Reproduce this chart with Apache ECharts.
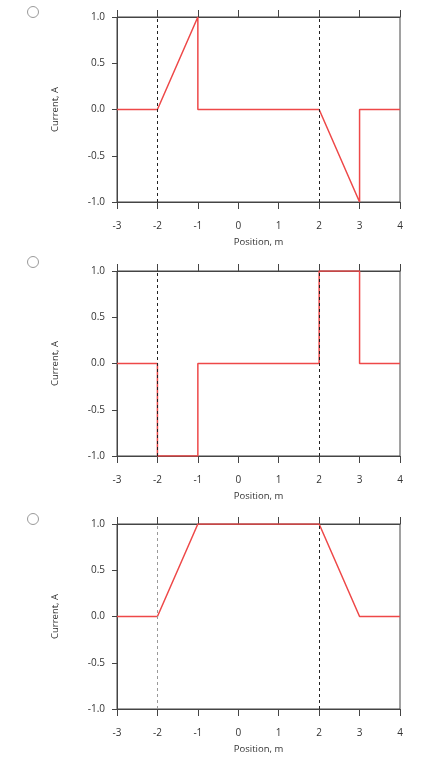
<!DOCTYPE html>
<html><head><meta charset="utf-8">
<script src="https://cdn.jsdelivr.net/npm/echarts@6/dist/echarts.min.js"></script>
<style>html,body{margin:0;padding:0;background:#fff}#c{width:423px;height:774px}</style>
</head><body><div id="c"></div>
<script>
// Data
const pos1 = [-3, -2, -1, -1, 2, 3, 3, 4];
const cur1 = [0, 0, 1, 0, 0, -1, 0, 0];
const pos2 = [-3, -2, -2, -1, -1, 2, 2, 3, 3, 4];
const cur2 = [0, 0, -1, -1, 0, 0, 1, 1, 0, 0];
const pos3 = [-3, -2, -1, 2, 3, 4];
const cur3 = [0, 0, 1, 1, 0, 0];
const guideLines = [-2, 2];
const xMin = -3, xMax = 4, xStep = 1;
const yMin = -1, yMax = 1, yStep = 0.5;
const xTitle = 'Position, m';
const yTitle = 'Current, A';

const panels = [
  {x: pos1, y: cur1, guideColors: ['#222', '#222']},
  {x: pos2, y: cur2, guideColors: ['#222', '#222']},
  {x: pos3, y: cur3, guideColors: ['#999', '#222']}
];
const tops = [17, 271, 524];
const font = '"Open Sans", sans-serif';
const frame = '#444';

const grid = [], xAxis = [], yAxis = [], series = [], graphic = [];
panels.forEach((p, i) => {
  grid.push({left: 117, width: 283, top: tops[i], height: 185, show: true,
    borderColor: frame, borderWidth: 1, backgroundColor: '#fff'});
  xAxis.push({type: 'value', gridIndex: i, min: xMin, max: xMax, interval: xStep,
    position: 'bottom', splitLine: {show: false},
    axisLine: {show: true, onZero: false, lineStyle: {color: frame}},
    axisTick: {show: true, inside: false, length: 7, lineStyle: {color: frame}},
    axisLabel: {margin: 19, fontSize: 10, color: '#333', fontFamily: font},
    name: xTitle, nameLocation: 'middle', nameGap: 35,
    nameTextStyle: {fontSize: 9.5, color: '#333', fontFamily: font}});
  xAxis.push({type: 'value', gridIndex: i, min: xMin, max: xMax, interval: xStep,
    position: 'top', splitLine: {show: false},
    axisLine: {show: true, onZero: false, lineStyle: {color: frame}},
    axisTick: {show: true, inside: false, length: 7, lineStyle: {color: frame}},
    axisLabel: {show: false}});
  yAxis.push({type: 'value', gridIndex: i, min: yMin, max: yMax, interval: yStep,
    splitLine: {show: false},
    axisLine: {show: true, onZero: false, lineStyle: {color: frame}},
    axisTick: {show: true, inside: false, length: 5, lineStyle: {color: frame}},
    axisLabel: {margin: 12, fontSize: 10, color: '#333', fontFamily: font,
      formatter: v => v.toFixed(1)},
    name: yTitle, nameLocation: 'middle', nameGap: 57,
    nameTextStyle: {fontSize: 9.5, color: '#333', fontFamily: font}});
  series.push({type: 'line', xAxisIndex: i * 2, yAxisIndex: i,
    data: p.x.map((v, k) => [v, p.y[k]]),
    showSymbol: false, symbol: 'none', animation: false,
    lineStyle: {color: '#ee4848', width: 1.5}, z: 3,
    markLine: {silent: true, symbol: 'none', animation: false,
      label: {show: false},
      data: guideLines.map((g, k) => ({xAxis: g,
        lineStyle: {color: p.guideColors[k], type: [3, 3], width: 1}}))}});
  graphic.push({type: 'circle', shape: {cx: 33, cy: [12, 262, 519][i], r: 5.5},
    style: {fill: '#fff', stroke: '#999', lineWidth: 1}});
});

const chart = echarts.init(document.getElementById('c'), null, {renderer: 'canvas'});
chart.setOption({animation: false, grid, xAxis, yAxis, series, graphic});
</script></body></html>
